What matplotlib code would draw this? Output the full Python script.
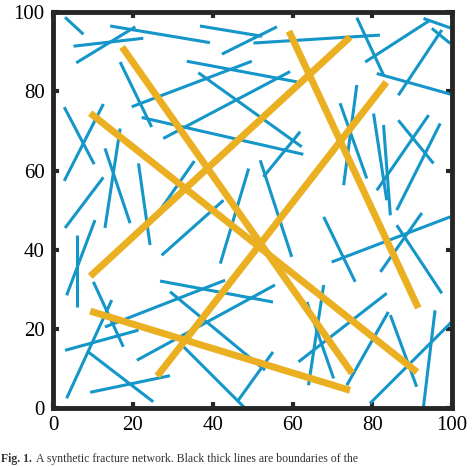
import matplotlib
matplotlib.use('Agg')
import matplotlib.pyplot as plt

# thin fractures: x0, y0, x1, y1
blueX0 = [3.0, 14.3, 5.1, 5.8, 36.8, 42.3, 33.5, 19.7, 16.8, 36.4, 27.6, 22.2,
          2.8, 2.8, 13.0, 16.8, 21.4, 12.6, 35.4, 27.2, 49.0, 10.5, 5.9, 10.1,
          14.7, 13.0, 26.8, 29.3, 3.0, 8.8, 9.3, 21.0, 46.4, 32.7,
          67.8, 69.8, 86.1, 82.0, 61.5, 67.8, 63.6, 84.0, 84.5, 79.4, 95.7,
          76.1, 78.2, 92.8, 94.9, 97.4, 81.1, 76.1, 71.9, 80.3, 82.8, 86.5,
          94.1, 97.0, 61.9, 51.9, 50.2]
blueY0 = [98.7, 96.5, 91.4, 87.2, 96.5, 89.4, 87.6, 76.1, 87.4, 84.7, 68.1, 73.4,
          76.0, 57.4, 65.6, 70.6, 61.8, 58.3, 62.4, 38.6, 60.5, 47.5, 43.7, 31.9,
          27.3, 20.5, 32.1, 29.4, 14.6, 14.2, 4.0, 12.1, 2.0, 15.5,
          48.3, 36.9, 46.2, 34.4, 11.7, 31.1, 26.8, 24.3, 23.5, 1.2, 24.7,
          98.6, 87.4, 98.4, 95.9, 95.5, 84.5, 81.6, 77.0, 74.4, 71.5, 72.7,
          74.0, 71.9, 69.8, 62.6, 92.2]
blueX1 = [7.6, 39.3, 22.6, 20.6, 52.4, 56.1, 61.1, 49.8, 24.7, 62.3, 59.4, 62.7,
          10.3, 12.6, 19.3, 13.0, 24.3, 3.0, 26.8, 42.7, 41.9, 3.4, 5.9, 17.6,
          3.4, 43.1, 55.1, 53.1, 21.4, 25.1, 29.3, 55.6, 55.1, 48.1,
          75.7, 99.5, 97.4, 92.4, 83.6, 64.0, 70.3, 73.6, 91.1, 99.9, 92.8,
          82.8, 94.5, 99.9, 99.5, 86.5, 99.5, 72.8, 78.6, 83.6, 84.5, 95.3,
          81.1, 86.1, 52.7, 59.8, 81.9]
blueY1 = [94.4, 92.3, 93.4, 96.3, 93.9, 96.3, 82.4, 87.6, 71.0, 66.0, 85.0, 64.1,
          61.6, 76.8, 46.7, 45.5, 41.2, 45.5, 50.0, 52.5, 36.5, 28.5, 25.6, 15.5,
          2.5, 32.3, 26.8, 9.6, 19.7, 1.6, 8.2, 31.1, 14.2, 0.0,
          31.9, 48.3, 29.0, 49.3, 29.0, 5.8, 7.5, 5.8, 5.4, 21.8, 0.3,
          84.1, 98.0, 95.9, 92.1, 79.0, 79.3, 56.3, 58.0, 52.5, 48.7, 61.8,
          55.0, 50.0, 58.4, 38.2, 94.2]

# thick boundary lines
orangeX0 = [17.3, 9.3, 9.3, 26.1, 59.1, 9.3]
orangeY0 = [91.2, 74.5, 33.3, 8.1, 95.2, 24.5]
orangeX1 = [74.9, 91.2, 74.4, 83.5, 91.5, 74.4]
orangeY1 = [8.8, 9.1, 93.7, 82.3, 25.3, 4.5]

fig = plt.figure(figsize=(4.74, 4.67), dpi=100)
ax = fig.add_axes([0.112, 0.126, 0.842, 0.848])

for i in range(len(blueX0)):
    ax.plot([blueX0[i], blueX1[i]], [blueY0[i], blueY1[i]], color='#1596c8',
            linewidth=2.2, solid_capstyle='butt')
for i in range(len(orangeX0)):
    ax.plot([orangeX0[i], orangeX1[i]], [orangeY0[i], orangeY1[i]], color='#ebaf22',
            linewidth=5, solid_capstyle='butt')

ax.set_xlim(0, 100)
ax.set_ylim(0, 100)
ax.set_xticks(range(0, 101, 20))
ax.set_yticks(range(0, 101, 20))
for s in ax.spines.values():
    s.set_linewidth(3.5)
    s.set_color('#262626')
ax.tick_params(direction='in', length=4, width=3, color='#262626', top=True, right=True,
               labelsize=15, pad=6)
for lab in ax.get_xticklabels() + ax.get_yticklabels():
    lab.set_family('Liberation Serif')

fig.text(0.002, 0.004, 'Fig. 1.', family='Liberation Serif', fontsize=8.5,
         weight='bold', va='bottom', color='#333333')
fig.text(0.075, 0.004, 'A synthetic fracture network. Black thick lines are boundaries of the',
         family='Liberation Serif', fontsize=8.5, va='bottom', color='#333333')

fig.savefig('out.png', dpi=100)
